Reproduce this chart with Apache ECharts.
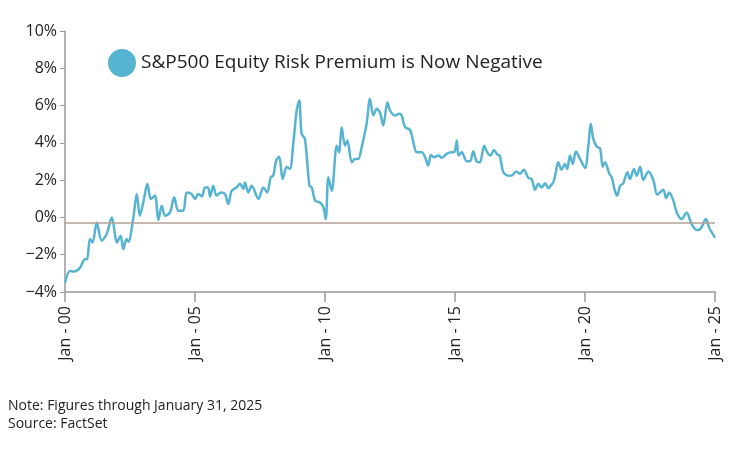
<!DOCTYPE html>
<html lang="en">
<head>
  <meta charset="UTF-8">
  <title>S&amp;P500 Equity Risk Premium</title>
  <style>
    html, body { margin: 0; padding: 0; background: #fff; }
    #chart { width: 750px; height: 450px; }
  </style>
</head>
<body>
  <div id="chart"></div>
  <script src="https://cdn.jsdelivr.net/npm/echarts@6/dist/echarts.min.js"></script>
  <script>
    // time in fractional years, value in %
    var years = [2000.0,2000.19,2000.35,2000.58,2000.77,2000.85,2000.96,2001.06,2001.22,2001.41,2001.6,2001.8,2002.0,2002.14,2002.24,2002.37,2002.44,2002.63,2002.76,2002.88,2003.01,2003.17,2003.3,2003.46,2003.59,2003.72,2003.85,2004.04,2004.2,2004.36,2004.55,2004.68,2004.87,2005.0,2005.13,2005.27,2005.38,2005.5,2005.58,2005.7,2005.83,2005.99,2006.15,2006.28,2006.41,2006.6,2006.73,2006.86,2006.92,2007.05,2007.18,2007.44,2007.63,2007.78,2007.91,2008.01,2008.12,2008.24,2008.37,2008.53,2008.65,2008.78,2008.91,2009.01,2009.1,2009.23,2009.4,2009.49,2009.62,2009.81,2009.94,2010.03,2010.13,2010.26,2010.45,2010.54,2010.64,2010.77,2010.86,2011.03,2011.15,2011.28,2011.41,2011.6,2011.73,2011.86,2011.99,2012.12,2012.24,2012.4,2012.5,2012.69,2012.86,2012.95,2013.08,2013.27,2013.4,2013.53,2013.72,2013.85,2013.97,2014.07,2014.19,2014.36,2014.5,2014.68,2014.87,2014.97,2015.07,2015.13,2015.26,2015.45,2015.58,2015.7,2015.83,2015.96,2016.12,2016.24,2016.37,2016.5,2016.63,2016.72,2016.86,2017.05,2017.2,2017.37,2017.5,2017.65,2017.82,2017.95,2018.08,2018.2,2018.33,2018.46,2018.59,2018.68,2018.78,2018.86,2018.97,2019.1,2019.23,2019.32,2019.42,2019.53,2019.65,2019.81,2020.0,2020.13,2020.22,2020.32,2020.45,2020.58,2020.68,2020.77,2020.94,2021.03,2021.15,2021.24,2021.35,2021.47,2021.63,2021.73,2021.88,2021.99,2022.12,2022.24,2022.44,2022.63,2022.78,2023.01,2023.12,2023.24,2023.4,2023.53,2023.72,2023.91,2024.1,2024.3,2024.45,2024.65,2024.78,2025.0];
    var premium = [-3.5,-2.87,-2.9,-2.69,-2.24,-2.24,-1.16,-1.34,-0.27,-1.25,-0.9,0.0,-1.34,-0.98,-1.7,-1.16,-1.3,0.0,1.26,0.09,0.8,1.8,0.99,1.17,-0.14,0.63,0.09,0.27,1.08,0.36,0.36,1.34,1.26,0.99,1.26,1.13,1.61,1.61,1.11,1.7,1.17,1.34,1.26,0.72,1.43,1.61,1.8,1.53,1.88,1.34,1.7,0.99,1.61,1.34,2.15,2.24,3.05,3.26,2.06,2.72,2.6,3.95,5.74,6.27,4.48,4.21,1.7,1.61,0.9,0.8,0.54,-0.09,2.15,1.43,3.85,3.49,4.84,3.85,4.12,2.96,3.14,3.14,3.76,5.02,6.37,5.47,5.83,5.6,4.93,6.18,5.74,5.47,5.56,5.47,4.84,4.7,4.03,3.49,3.49,3.23,2.78,3.35,3.23,3.32,3.2,3.41,3.49,3.49,4.12,3.32,3.49,3.01,3.01,3.55,3.01,2.96,3.85,3.49,3.32,3.62,3.37,3.32,2.42,2.24,2.26,2.47,2.33,2.56,2.12,2.06,1.47,1.8,1.61,1.83,1.56,1.7,1.88,2.3,2.96,2.56,2.87,2.6,3.32,2.87,3.53,3.14,2.65,3.85,5.02,4.21,3.8,3.7,2.72,2.96,2.33,2.15,1.43,1.17,1.7,1.83,2.42,2.06,2.6,2.24,2.72,2.01,2.47,2.01,1.22,1.49,1.04,1.34,0.9,0.27,-0.09,0.27,-0.36,-0.68,-0.6,-0.09,-0.57,-1.08];
    var yTicks = [-4, -2, 0, 2, 4, 6, 8, 10];
    var refLevel = -0.27;

    var points = years.map(function(y, i) { return [y, premium[i]]; });
    var font = '"Open Sans", Lato, sans-serif';

    var chart = echarts.init(document.getElementById('chart'));
    chart.setOption({
      animation: false,
      grid: { left: 65, right: 35, top: 31, bottom: 158 },
      legend: {
        left: 103, top: 44,
        icon: 'circle', itemWidth: 28, itemHeight: 28, itemGap: 10,
        textStyle: { fontSize: 19, color: '#222', fontFamily: font },
        data: ['S&P500 Equity Risk Premium is Now Negative']
      },
      xAxis: {
        type: 'value', min: 2000, max: 2025, interval: 5,
        axisLine: { onZero: false, lineStyle: { color: '#999', width: 1.5 } },
        axisTick: { show: true, length: 10, lineStyle: { color: '#999', width: 1.5 } },
        splitLine: { show: false },
        axisLabel: {
          rotate: 90, margin: 14, fontSize: 16, color: '#222', fontFamily: font,
          formatter: function(v) { return 'Jan - ' + String(v % 100).padStart(2, '0'); }
        }
      },
      yAxis: {
        type: 'value', min: yTicks[0], max: yTicks[yTicks.length - 1], interval: 2,
        axisLine: { show: true, lineStyle: { color: '#999', width: 1.5 } },
        axisTick: { show: true, length: 5, lineStyle: { color: '#999' } },
        splitLine: { show: false },
        axisLabel: {
          fontSize: 16, color: '#222', fontFamily: font, margin: 8,
          formatter: function(v) { return (v < 0 ? '\u2212' + (-v) : v) + '%'; }
        }
      },
      series: [{
        name: 'S&P500 Equity Risk Premium is Now Negative',
        type: 'line', data: points, showSymbol: false, smooth: 0.3,
        itemStyle: { color: '#57b4d1' },
        lineStyle: { color: '#57b4d1', width: 2.5 },
        markLine: {
          silent: true, symbol: 'none', label: { show: false },
          lineStyle: { color: '#b3a097', type: 'solid', width: 1.5 },
          data: [{ yAxis: refLevel }]
        }
      }],
      graphic: [
        { type: 'text', left: 8, top: 399, style: { text: 'Note: Figures through January 31, 2025', fontSize: 14, fill: '#222', fontFamily: font } },
        { type: 'text', left: 8, top: 417, style: { text: 'Source: FactSet', fontSize: 14, fill: '#222', fontFamily: font } }
      ]
    });
  </script>
</body>
</html>
